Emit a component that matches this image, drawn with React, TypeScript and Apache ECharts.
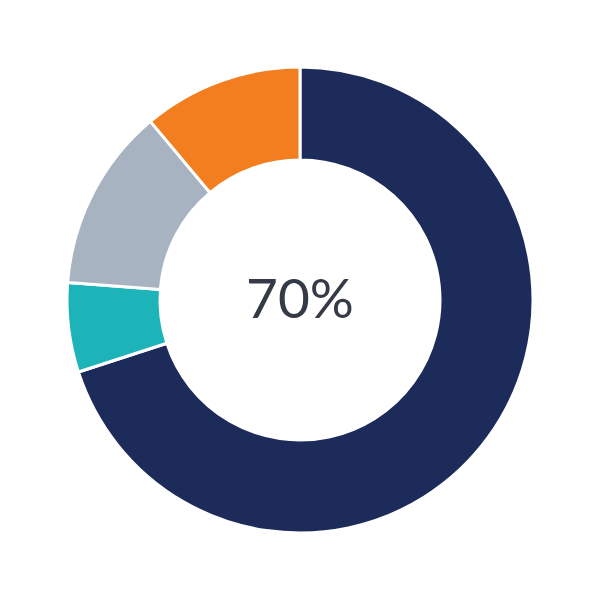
import { useEffect, useRef } from 'react';
import * as echarts from 'echarts';

const categories = ['A', 'B', 'C', 'D'];
const values = [70, 6.2, 12.7, 11.1];
const colors = ['#1c2b5a', '#1cb4b9', '#a8b3c1', '#f37e20'];
const centerLabel = '70%';

const App = () => {
  const chartRef = useRef<HTMLDivElement>(null);

  useEffect(() => {
    if (!chartRef.current) return;
    document.body.style.margin = '0';

    const chart = echarts.init(chartRef.current, undefined, { renderer: 'svg' });

    const option: echarts.EChartsOption = {
      animation: false,
      backgroundColor: '#ffffff',
      graphic: [
        {
          type: 'text',
          x: 300,
          y: 297,
          style: {
            text: centerLabel,
            align: 'center',
            verticalAlign: 'middle',
            fontFamily: 'Lato',
            fontWeight: 'normal',
            fontSize: 55,
            fill: '#343b47'
          }
        }
      ],
      series: [
        {
          type: 'pie',
          center: [300, 300],
          radius: [140, 233],
          startAngle: 90,
          clockwise: true,
          label: { show: false },
          labelLine: { show: false },
          itemStyle: {
            borderColor: '#ffffff',
            borderWidth: 3
          },
          data: categories.map((name, i) => ({
            name,
            value: values[i],
            itemStyle: { color: colors[i] }
          }))
        }
      ]
    };

    chart.setOption(option);

    return () => {
      chart.dispose();
    };
  }, []);

  return <div ref={chartRef} style={{ width: 600, height: 600 }} />;
};

export default App;
